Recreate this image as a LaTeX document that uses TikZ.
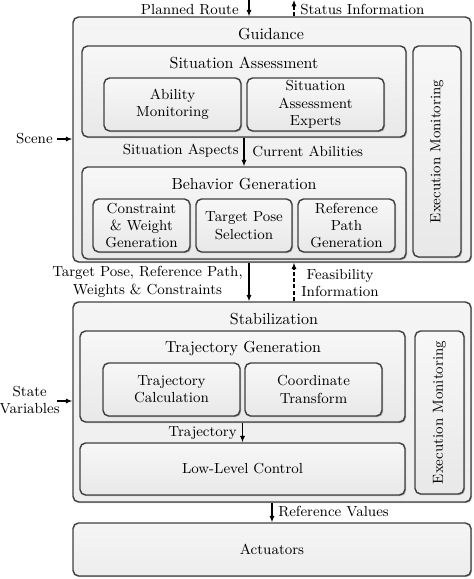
\documentclass[tikz,border=0pt]{standalone}
\usetikzlibrary{fit,shadows,arrows.meta}
\begin{document}
\begin{tikzpicture}[x=0.625pt,y=-0.625pt,
  box/.style={draw=black!75, line width=0.9pt, rounded corners=3.5pt, inner sep=0pt,
    top color=gray!6, bottom color=gray!18,
    drop shadow={shadow xshift=0.7pt, shadow yshift=-0.7pt, opacity=0.45, fill=black!60}},
  outer/.style={box, top color=gray!8, bottom color=gray!14},
  txt/.style={align=center, inner sep=0pt, font=\fontsize{9.1}{10.9}\selectfont},
  ttl/.style={align=center, inner sep=0pt, font=\fontsize{10}{12}\selectfont},
  arr/.style={-{Latex[length=4pt,width=3.2pt]}, line width=0.7pt},
  darr/.style={arr, dashed, dash pattern=on 2.5pt off 1.5pt}]
\useasboundingbox (0,0) rectangle (474,579);
% Guidance
\node[outer, fit={(73,17)(471,262)}] (guid) {};
\node[ttl] (guidlbl) at (271,34) {Guidance};
\node[box, fit={(82,46)(406,137)}] (sa) {};
\node[ttl] (salbl) at (244,63) {Situation Assessment};
\node[box, fit={(104,78)(241,131)}] (am) {};
\node[txt] (amlbl) at (am.center) {Ability\\Monitoring};
\node[box, fit={(247,78)(384,131)}] (sae) {};
\node[txt] (saelbl) at (sae.center) {Situation\\Assessment\\Experts};
\node[box, fit={(413,46)(461,257)}] (em1) {};
\node[txt, rotate=90] (em1lbl) at (em1.center) {Execution Monitoring};
\node[box, fit={(82,167)(406,259)}] (bg) {};
\node[ttl] (bglbl) at (244,184) {Behavior Generation};
\node[box, fit={(93,199)(190,252)}] (cw) {};
\node[txt] (cwlbl) at (cw.center) {Constraint\\\& Weight\\Generation};
\node[box, fit={(196,199)(292,252)}] (tps) {};
\node[txt] (tpslbl) at (tps.center) {Target Pose\\Selection};
\node[box, fit={(298,199)(395,252)}] (rpg) {};
\node[txt] (rpglbl) at (rpg.center) {Reference\\Path\\Generation};
\draw[arr] (sa) -- (bg);
\node[txt, anchor=east] (saspect) at (239,151) {Situation Aspects};
\node[txt, anchor=west] (cab) at (252,151) {Current Abilities};
% top inputs
\coordinate (prtop) at (249,0);
\coordinate (sitop) at (294,0);
\draw[arr] (prtop) -- (prtop |- guid.north);
\draw[darr] (sitop |- guid.north) -- (sitop);
\node[txt, anchor=east] (prlbl) at (239,10) {Planned Route};
\node[txt, anchor=west] (silbl) at (300,10) {Status Information};
\coordinate (scn) at (57,139);
\draw[arr] (scn) -- (guid.west |- scn);
\node[txt, anchor=east] (scnlbl) at (53,139) {Scene};
% Stabilization
\node[outer, fit={(73,302)(471,502)}] (stab) {};
\node[ttl] (stablbl) at (274,319) {Stabilization};
\node[box, fit={(80,331)(405,422)}] (tg) {};
\node[ttl] (tglbl) at (243,348) {Trajectory Generation};
\node[box, fit={(103,363)(240,416)}] (tc) {};
\node[txt] (tclbl) at (tc.center) {Trajectory\\Calculation};
\node[box, fit={(245,363)(382,416)}] (ct) {};
\node[txt] (ctlbl) at (ct.center) {Coordinate\\Transform};
\node[box, fit={(415,331)(464,494)}] (em2) {};
\node[txt, rotate=90] (em2lbl) at (em2.center) {Execution Monitoring};
\node[box, fit={(80,443)(405,495)}] (llc) {};
\node[txt] (llclbl) at (llc.center) {Low-Level Control};
\draw[arr] (tg) -- (llc);
\node[txt, anchor=east] (trlbl) at (237,433) {Trajectory};
% between guidance and stabilization
\coordinate (tpx) at (249,0);
\coordinate (fix) at (294,0);
\draw[arr] (guid.south -| tpx) -- (stab.north -| tpx);
\draw[darr] (stab.north -| fix) -- (guid.south -| fix);
\node[txt, anchor=east] (tplbl) at (243,282) {Target Pose, Reference Path,\\Weights \& Constraints};
\node[txt, anchor=west] (filbl) at (301,283) {Feasibility\\Information};
\coordinate (sv) at (57,401);
\draw[arr] (sv) -- (stab.west |- sv);
\node[txt, anchor=east] (svlbl) at (60,400) {State\\Variables};
% Actuators
\node[outer, fit={(73,523)(471,576)}] (act) {};
\node[txt] (actlbl) at (act.center) {Actuators};
\draw[arr] (stab) -- (act);
\node[txt, anchor=west] (rvlbl) at (278,512) {Reference Values};
\end{tikzpicture}
\end{document}
